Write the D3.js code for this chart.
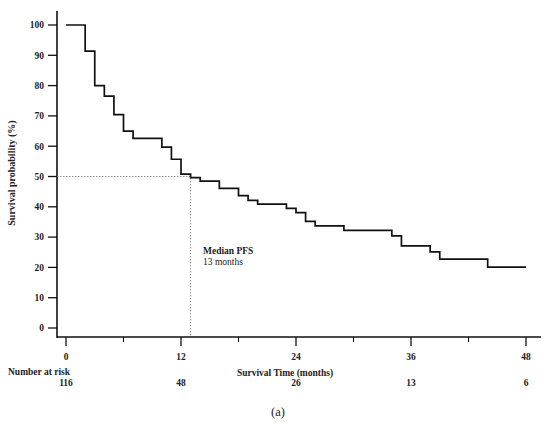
<!DOCTYPE html>
<html>
<head>
<meta charset="utf-8">
<script src="https://cdn.jsdelivr.net/npm/d3@7"></script>
<style>
  body { margin: 0; background: #fff; }
  svg text { font-family: "Liberation Serif", "Times New Roman", serif; fill: #222; }
</style>
</head>
<body>
<svg id="chart" width="550" height="424"></svg>
<script>
// step points: time (months) where survival drops, and the survival (%) after the drop
const stepTimes = [0, 2, 3, 4, 5, 6, 7, 10, 11, 12, 13, 14, 16, 18, 19, 20, 23, 24, 25, 26, 29, 34, 35, 38, 39, 44];
const stepSurv  = [100, 91.4, 80, 76.5, 70.4, 65, 62.6, 59.7, 55.7, 50.8, 49.6, 48.5, 46.1, 43.7, 42.1, 40.9, 39.5, 38.1, 35.2, 33.7, 32.2, 30.4, 27.1, 25.1, 22.7, 20.1];
const endTime = 48;

const xTicks = [0, 12, 24, 36, 48];
const xMinor = [6, 18, 30, 42];
const yTicks = [0, 10, 20, 30, 40, 50, 60, 70, 80, 90, 100];
const atRisk = [116, 48, 26, 13, 6];
const medianTime = 13;

const svg = d3.select('#chart');

const x = d3.scaleLinear().domain([0, 48]).range([66, 526]);
const y = d3.scaleLinear().domain([0, 100]).range([328, 25]);

const axisLeftX = 57;
const axisBottomY = 337;

// axes lines
svg.append('line')
  .attr('x1', axisLeftX).attr('x2', axisLeftX)
  .attr('y1', 11).attr('y2', axisBottomY + 1)
  .attr('stroke', '#111').attr('stroke-width', 1.6);
svg.append('line')
  .attr('x1', axisLeftX).attr('x2', 541)
  .attr('y1', axisBottomY).attr('y2', axisBottomY)
  .attr('stroke', '#111').attr('stroke-width', 1.6);

// y ticks
const yg = svg.append('g');
yg.selectAll('line').data(yTicks).join('line')
  .attr('x1', 48).attr('x2', axisLeftX)
  .attr('y1', d => y(d)).attr('y2', d => y(d))
  .attr('stroke', '#111').attr('stroke-width', 1.3);
yg.selectAll('text').data(yTicks).join('text')
  .attr('x', 44).attr('y', d => y(d))
  .attr('dy', '0.35em')
  .attr('text-anchor', 'end')
  .attr('font-size', 9.5).attr('font-weight', 'bold')
  .text(d => d);

// x ticks
const xg = svg.append('g');
xg.selectAll('line.major').data(xTicks).join('line')
  .attr('class', 'major')
  .attr('x1', d => x(d)).attr('x2', d => x(d))
  .attr('y1', axisBottomY).attr('y2', axisBottomY + 9)
  .attr('stroke', '#111').attr('stroke-width', 1.3);
xg.selectAll('line.minor').data(xMinor).join('line')
  .attr('class', 'minor')
  .attr('x1', d => x(d)).attr('x2', d => x(d))
  .attr('y1', axisBottomY).attr('y2', axisBottomY + 5)
  .attr('stroke', '#111').attr('stroke-width', 1.1);
xg.selectAll('text').data(xTicks).join('text')
  .attr('x', d => x(d)).attr('y', 360)
  .attr('text-anchor', 'middle')
  .attr('font-size', 9.5).attr('font-weight', 'bold')
  .text(d => d);

// number at risk
svg.append('text')
  .attr('x', 8).attr('y', 375)
  .attr('font-size', 9.5).attr('font-weight', 'bold')
  .text('Number at risk');
svg.append('g').selectAll('text').data(atRisk).join('text')
  .attr('x', (d, i) => x(xTicks[i])).attr('y', 386)
  .attr('text-anchor', 'middle')
  .attr('font-size', 9.5).attr('font-weight', 'bold')
  .text(d => d);

// axis titles
svg.append('text')
  .attr('x', 285).attr('y', 376)
  .attr('text-anchor', 'middle')
  .attr('font-size', 9.5).attr('font-weight', 'bold')
  .text('Survival Time (months)');
svg.append('text')
  .attr('transform', 'translate(15,173) rotate(-90)')
  .attr('text-anchor', 'middle')
  .attr('font-size', 10).attr('font-weight', 'bold')
  .text('Survival probability (%)');

// median dotted guide
const medianPath = d3.path();
medianPath.moveTo(axisLeftX, y(50));
medianPath.lineTo(x(medianTime), y(50));
medianPath.lineTo(x(medianTime), axisBottomY);
svg.append('path')
  .attr('d', medianPath.toString())
  .attr('fill', 'none')
  .attr('stroke', '#888').attr('stroke-width', 0.9)
  .attr('stroke-dasharray', '1.5,1.5');

svg.append('text')
  .attr('x', 203).attr('y', 254)
  .attr('font-size', 9.5).attr('font-weight', 'bold')
  .text('Median PFS');
svg.append('text')
  .attr('x', 203).attr('y', 265)
  .attr('font-size', 9.5)
  .text('13 months');

// KM step curve
const pts = stepTimes.map((t, i) => [t, stepSurv[i]]);
pts.push([endTime, stepSurv[stepSurv.length - 1]]);
const line = d3.line()
  .x(d => x(d[0])).y(d => y(d[1]))
  .curve(d3.curveStepAfter);
svg.append('path')
  .datum(pts)
  .attr('d', line)
  .attr('fill', 'none')
  .attr('stroke', '#111').attr('stroke-width', 1.7);

// panel label
svg.append('text')
  .attr('x', 278).attr('y', 416)
  .attr('text-anchor', 'middle')
  .attr('font-family', '"DejaVu Serif", serif')
  .attr('font-size', 12.5)
  .text('(a)');
</script>
</body>
</html>
